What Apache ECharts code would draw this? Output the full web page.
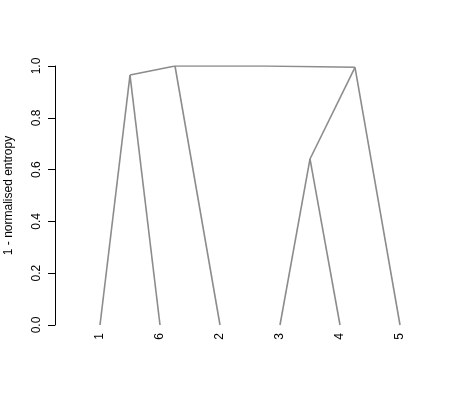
<!DOCTYPE html>
<html><head><meta charset="utf-8">
<script src="https://cdn.jsdelivr.net/npm/echarts@6/dist/echarts.min.js"></script>
<style>html,body{margin:0;padding:0;background:#fff}#c{width:474px;height:406px}</style>
</head><body><div id="c"></div>
<script>
// Leaf labels in dendrogram order
const leafLabels = ['1', '6', '2', '3', '4', '5'];
// R-style merge matrix: negative = leaf (1-based order position), positive = earlier merge
const mergeLeft  = [-1, 1, -4, 3, 2];
const mergeRight = [-2, -3, -5, -6, 4];
const mergeHeights = [0.965, 1.0, 0.641, 0.995, 1.0];
const yTicks = [0, 0.2, 0.4, 0.6, 0.8, 1.0];

// node positions (x = midpoint of children as in R triangle dendrogram)
const nodePos = [];
function pos(ref) {
  if (ref < 0) return [-ref, 0];
  return nodePos[ref - 1];
}
const edges = [];
for (let i = 0; i < mergeHeights.length; i++) {
  const a = pos(mergeLeft[i]), b = pos(mergeRight[i]);
  const p = [(a[0] + b[0]) / 2, mergeHeights[i]];
  nodePos.push(p);
  edges.push({coords: [p, a]});
  edges.push({coords: [p, b]});
}

const chart = echarts.init(document.getElementById('c'), null, {renderer: 'canvas'});
const font = 'Liberation Sans, Arial, Helvetica, sans-serif';
chart.setOption({
  animation: false,
  backgroundColor: '#fff',
  grid: {left: 100, top: 66, width: 300, height: 259, containLabel: false, outerBoundsMode: 'none'},
  xAxis: {
    type: 'value', min: 1, max: leafLabels.length, interval: 1,
    axisLine: {show: false}, axisTick: {show: false}, splitLine: {show: false},
    axisLabel: {
      rotate: 90, margin: 8, color: '#000', fontSize: 12, fontFamily: font,
      formatter: v => leafLabels[v - 1] || ''
    }
  },
  yAxis: {
    type: 'value', min: yTicks[0], max: yTicks[yTicks.length - 1], interval: 0.2, offset: 45,
    name: '1 - normalised entropy', nameLocation: 'middle', nameGap: 40,
    nameRotate: 90,
    nameTextStyle: {color: '#000', fontSize: 12, fontFamily: font},
    axisLine: {show: true, lineStyle: {color: '#000', width: 1}},
    axisTick: {show: true, length: 7, lineStyle: {color: '#000'}},
    splitLine: {show: false},
    axisLabel: {
      rotate: 90, margin: 12, color: '#000', fontSize: 12, fontFamily: font,
      formatter: v => v.toFixed(1)
    }
  },
  series: [{
    type: 'lines', coordinateSystem: 'cartesian2d', polyline: false,
    lineStyle: {color: '#8c8c8c', width: 1.6, opacity: 1},
    data: edges, silent: true
  }]
});
</script></body></html>
